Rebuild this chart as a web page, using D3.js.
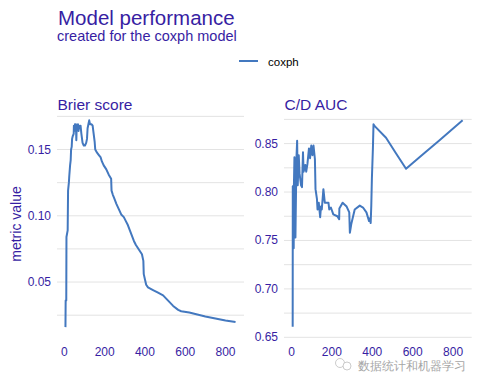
<!DOCTYPE html>
<html>
<head>
<meta charset="utf-8">
<script src="https://cdn.jsdelivr.net/npm/d3@7"></script>
<style>
  body { margin: 0; background: #fff; }
  text { font-family: "Liberation Sans", Arial, sans-serif; }
</style>
</head>
<body>
<div id="chart"></div>
<script>
// data
var brierTimes = [5, 6, 9, 10, 16, 18, 22, 24, 28, 31, 33, 36, 38, 41, 44, 46, 47, 50, 52, 55, 57, 59, 61, 64, 67, 70, 73, 77, 80, 84, 90, 96, 102, 108, 112, 115, 119, 123, 127, 135, 140, 145, 150, 153, 160, 170, 180, 186, 195, 208, 220, 232, 234, 240, 248, 258, 270, 282, 295, 305, 315, 325, 335, 345, 355, 372, 385, 392, 394, 400, 406, 415, 440, 465, 490, 515, 540, 565, 580, 620, 660, 700, 750, 800, 850];
var brierValues = [0.016, 0.036, 0.036, 0.084, 0.089, 0.119, 0.125, 0.130, 0.138, 0.142, 0.150, 0.152, 0.158, 0.160, 0.161, 0.162, 0.168, 0.165, 0.169, 0.164, 0.169, 0.157, 0.168, 0.165, 0.169, 0.164, 0.168, 0.166, 0.168, 0.162, 0.155, 0.153, 0.153, 0.155, 0.158, 0.166, 0.169, 0.172, 0.169, 0.169, 0.168, 0.162, 0.156, 0.150, 0.148, 0.146, 0.144, 0.141, 0.138, 0.135, 0.131, 0.128, 0.119, 0.116, 0.113, 0.109, 0.105, 0.101, 0.099, 0.096, 0.093, 0.089, 0.085, 0.081, 0.078, 0.074, 0.071, 0.066, 0.056, 0.052, 0.048, 0.046, 0.044, 0.042, 0.040, 0.036, 0.032, 0.029, 0.028, 0.027, 0.0255, 0.024, 0.0225, 0.021, 0.0198];

var aucTimes = [6, 6.5, 8, 11, 12, 14.7, 19.6, 24.5, 28, 31, 36, 40, 47.5, 52, 57, 60, 68, 73, 79, 86.6, 92, 98, 104, 109, 116, 119, 126, 129, 135, 142, 146, 150, 158, 165, 183, 187, 195, 207, 227, 236, 237, 253, 273, 286, 289, 296, 313, 338, 354, 371, 384, 388, 392, 395, 398, 403, 406, 412, 468, 517, 567, 648, 730, 847];
var aucValues = [0.661, 0.806, 0.742, 0.742, 0.806, 0.836, 0.753, 0.834, 0.853, 0.807, 0.838, 0.819, 0.807, 0.805, 0.841, 0.821, 0.828, 0.821, 0.829, 0.845, 0.835, 0.848, 0.838, 0.848, 0.834, 0.803, 0.793, 0.782, 0.789, 0.774, 0.785, 0.782, 0.803, 0.789, 0.789, 0.782, 0.784, 0.777, 0.775, 0.772, 0.783, 0.789, 0.785, 0.779, 0.758, 0.767, 0.782, 0.786, 0.784, 0.779, 0.770, 0.773, 0.768, 0.786, 0.814, 0.845, 0.870, 0.868, 0.856, 0.840, 0.824, 0.8385, 0.853, 0.874];

var xTicks = [0, 200, 400, 600, 800];
var brierTicks = [0.05, 0.10, 0.15];
var brierGrid = [0.025, 0.05, 0.075, 0.10, 0.125, 0.15, 0.175];
var aucTicks = [0.65, 0.70, 0.75, 0.80, 0.85];
var aucGrid = [0.65, 0.675, 0.70, 0.725, 0.75, 0.775, 0.80, 0.825, 0.85, 0.875];

var purple = "#371ea3";
var lineColor = "#4378bf";
var gridColor = "#e3e3e3";

var svg = d3.select("#chart").append("svg")
  .attr("width", 480)
  .attr("height", 384);

// titles
svg.append("text").attr("x", 58).attr("y", 25)
  .attr("font-size", 20.5).attr("fill", purple)
  .text("Model performance");
svg.append("text").attr("x", 57).attr("y", 41)
  .attr("font-size", 14.5).attr("fill", purple)
  .text("created for the coxph model");

// legend
svg.append("line").attr("x1", 239).attr("x2", 258).attr("y1", 61).attr("y2", 61)
  .attr("stroke", lineColor).attr("stroke-width", 2);
svg.append("text").attr("x", 268).attr("y", 66)
  .attr("font-size", 11.5).attr("fill", "#000")
  .text("coxph");

// y axis title
svg.append("text")
  .attr("transform", "translate(20.5,224) rotate(-90)")
  .attr("text-anchor", "middle")
  .attr("font-size", 14).attr("fill", purple)
  .text("metric value");

function drawPanel(opts) {
  var x = d3.scaleLinear().domain([-37, 892]).range([opts.left, opts.right]);
  var y = d3.scaleLinear().domain(opts.yDomain).range([338, 110]);
  var g = svg.append("g");

  g.selectAll("line.grid").data(opts.grid).enter().append("line")
    .attr("x1", opts.left).attr("x2", opts.right)
    .attr("y1", d => y(d)).attr("y2", d => y(d))
    .attr("stroke", gridColor).attr("stroke-width", 1);

  g.selectAll("text.ytick").data(opts.ticks).enter().append("text")
    .attr("x", opts.left - 6).attr("y", d => y(d) + 4)
    .attr("text-anchor", "end")
    .attr("font-size", 12).attr("fill", purple)
    .text(d => d3.format(".2f")(d));

  g.selectAll("text.xtick").data(xTicks).enter().append("text")
    .attr("x", d => x(d)).attr("y", 356)
    .attr("text-anchor", "middle")
    .attr("font-size", 12).attr("fill", purple)
    .text(d => d);

  g.append("text").attr("x", opts.left + 0.5).attr("y", 110)
    .attr("font-size", 15.5).attr("fill", purple)
    .text(opts.title);

  var pts = opts.times.map((t, i) => [t, opts.values[i]]);
  var line = d3.line().x(d => x(d[0])).y(d => y(d[1]));
  g.append("path").datum(pts)
    .attr("d", line)
    .attr("fill", "none")
    .attr("stroke", lineColor)
    .attr("stroke-width", 2)
    .attr("stroke-linejoin", "round");
}

drawPanel({left: 57, right: 244, yDomain: [0.0078, 0.1798], grid: brierGrid, ticks: brierTicks,
  title: "Brier score", times: brierTimes, values: brierValues});
drawPanel({left: 284, right: 471.7, yDomain: [0.6493, 0.8847], grid: aucGrid, ticks: aucTicks,
  title: "C/D AUC", times: aucTimes, values: aucValues});

// watermark
var wm = svg.append("g").attr("opacity", 0.75);
wm.append("circle").attr("cx", 340).attr("cy", 363).attr("r", 4.5)
  .attr("fill", "#fff").attr("stroke", "#aaa").attr("stroke-width", 0.8);
wm.append("circle").attr("cx", 347).attr("cy", 366).attr("r", 4)
  .attr("fill", "#fff").attr("stroke", "#aaa").attr("stroke-width", 0.8);
wm.append("text").attr("x", 358).attr("y", 369.5)
  .attr("font-size", 11.6)
  .attr("font-family", "Noto Sans CJK SC")
  .attr("fill", "#888").attr("stroke", "#fff").attr("stroke-width", 0.6)
  .attr("paint-order", "stroke")
  .text("数据统计和机器学习");
</script>
</body>
</html>
